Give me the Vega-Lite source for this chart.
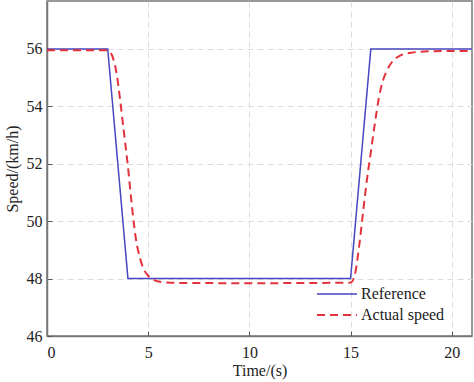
{
  "$schema": "https://vega.github.io/schema/vega-lite/v6.json",
  "width": 425,
  "height": 335,
  "autosize": {"type": "none"},
  "padding": {"left": 47, "top": 1, "right": 2, "bottom": 46},
  "background": "white",
  "config": {
    "font": "Liberation Serif",
    "view": {"stroke": "#777777", "strokeWidth": 1.5},
    "axis": {
      "labelFont": "Liberation Serif",
      "titleFont": "Liberation Serif",
      "labelFontSize": 16,
      "titleFontSize": 16,
      "titleFontWeight": "normal",
      "labelColor": "#222222",
      "titleColor": "#222222",
      "domainColor": "#777777",
      "domainWidth": 1.5,
      "tickColor": "#555555",
      "tickSize": -5,
      "grid": true,
      "gridColor": "#dddddd",
      "gridDash": [6, 4],
      "gridWidth": 1
    }
  },
  "data": {
    "values": [
      {"t": 0, "v": 56, "s": "Reference"},
      {"t": 3, "v": 56, "s": "Reference"},
      {"t": 4, "v": 48, "s": "Reference"},
      {"t": 15, "v": 48, "s": "Reference"},
      {"t": 16, "v": 56, "s": "Reference"},
      {"t": 21, "v": 56, "s": "Reference"},
      {"t": 0, "v": 55.95, "s": "Actual speed"},
      {"t": 3.0, "v": 55.95, "s": "Actual speed"},
      {"t": 3.15, "v": 55.87, "s": "Actual speed"},
      {"t": 3.3, "v": 55.6, "s": "Actual speed"},
      {"t": 3.45, "v": 55.1, "s": "Actual speed"},
      {"t": 3.6, "v": 54.3, "s": "Actual speed"},
      {"t": 3.8, "v": 53.1, "s": "Actual speed"},
      {"t": 4.0, "v": 51.9, "s": "Actual speed"},
      {"t": 4.2, "v": 50.5, "s": "Actual speed"},
      {"t": 4.4, "v": 49.35, "s": "Actual speed"},
      {"t": 4.6, "v": 48.7, "s": "Actual speed"},
      {"t": 4.8, "v": 48.3, "s": "Actual speed"},
      {"t": 5.0, "v": 48.1, "s": "Actual speed"},
      {"t": 5.3, "v": 47.95, "s": "Actual speed"},
      {"t": 5.7, "v": 47.88, "s": "Actual speed"},
      {"t": 6.5, "v": 47.85, "s": "Actual speed"},
      {"t": 10, "v": 47.84, "s": "Actual speed"},
      {"t": 15.0, "v": 47.86, "s": "Actual speed"},
      {"t": 15.2, "v": 48.1, "s": "Actual speed"},
      {"t": 15.4, "v": 49.0, "s": "Actual speed"},
      {"t": 15.6, "v": 50.2, "s": "Actual speed"},
      {"t": 15.8, "v": 51.4, "s": "Actual speed"},
      {"t": 16.0, "v": 52.4, "s": "Actual speed"},
      {"t": 16.2, "v": 53.4, "s": "Actual speed"},
      {"t": 16.4, "v": 54.3, "s": "Actual speed"},
      {"t": 16.6, "v": 54.9, "s": "Actual speed"},
      {"t": 16.8, "v": 55.25, "s": "Actual speed"},
      {"t": 17.0, "v": 55.5, "s": "Actual speed"},
      {"t": 17.4, "v": 55.75, "s": "Actual speed"},
      {"t": 18.0, "v": 55.87, "s": "Actual speed"},
      {"t": 19.0, "v": 55.92, "s": "Actual speed"},
      {"t": 21.0, "v": 55.93, "s": "Actual speed"}
    ]
  },
  "encoding": {
    "x": {
      "field": "t", "type": "quantitative",
      "scale": {"domain": [0, 21], "nice": false, "zero": false},
      "axis": {"values": [0, 5, 10, 15, 20], "title": "Time/(s)", "titlePadding": 2, "labelPadding": 13}
    },
    "y": {
      "field": "v", "type": "quantitative",
      "scale": {"domain": [46, 57.67], "nice": false, "zero": false},
      "axis": {"values": [46, 48, 50, 52, 54, 56], "title": "Speed/(km/h)", "titlePadding": 6, "labelPadding": 10}
    },
    "color": {
      "field": "s", "type": "nominal",
      "scale": {"domain": ["Reference", "Actual speed"], "range": ["#4646c0", "#e2323c"]},
      "legend": {
        "title": null, "orient": "none", "legendX": 279, "legendY": 282,
        "symbolType": "M-2,0H2", "symbolSize": 400, "symbolStrokeWidth": 2,
        "labelFontSize": 16, "labelFont": "Liberation Serif", "labelColor": "#222222",
        "rowPadding": 2, "labelOffset": 13
      }
    },
    "strokeDash": {
      "field": "s", "type": "nominal",
      "scale": {"domain": ["Reference", "Actual speed"], "range": [[1, 0], [8, 5]]}
    },
    "strokeWidth": {
      "field": "s", "type": "nominal",
      "scale": {"domain": ["Reference", "Actual speed"], "range": [1.5, 2]},
      "legend": null
    }
  },
  "layer": [
    {
      "transform": [{"filter": "datum.s === 'Reference'"}],
      "mark": {"type": "line", "clip": true, "interpolate": "linear"}
    },
    {
      "transform": [{"filter": "datum.s === 'Actual speed'"}],
      "mark": {"type": "line", "clip": true, "interpolate": "monotone"}
    }
  ]
}
